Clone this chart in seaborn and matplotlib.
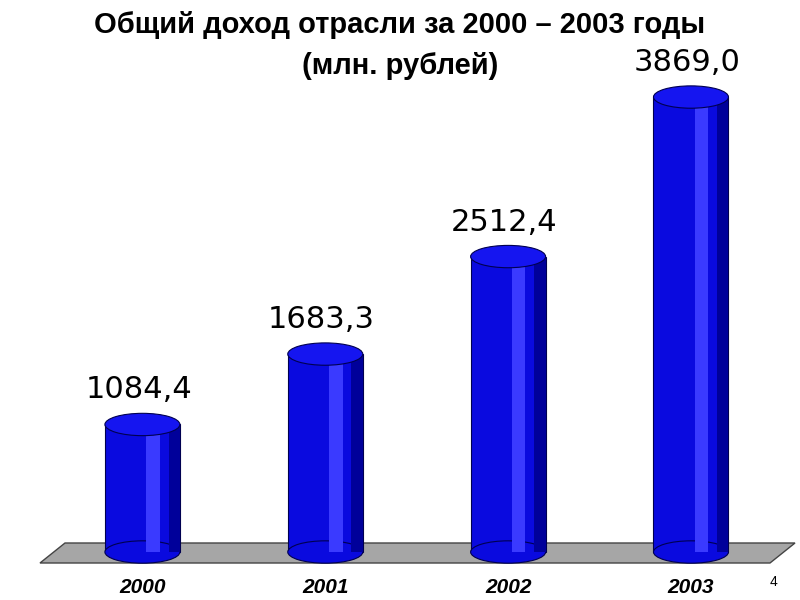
import matplotlib
matplotlib.use("Agg")
import matplotlib.pyplot as plt
import seaborn as sns
import pandas as pd
from matplotlib.patches import Ellipse, Polygon

years = ["2000", "2001", "2002", "2003"]
values = [1084.4, 1683.3, 2512.4, 3869.0]
labels = ["1084,4", "1683,3", "2512,4", "3869,0"]

sns.set_style("white")
plt.rcParams['font.family'] = ['Liberation Sans', 'DejaVu Sans']
plt.rcParams['text.color'] = 'black'

fig = plt.figure(figsize=(8, 6), dpi=100)
fig.patch.set_facecolor("white")

W, H = 800, 600
ax = fig.add_axes([0.05, 0.06, 0.944, 0.84])
ax.set_facecolor("none")
floor = Polygon([(40/W, 1-563/H), (770/W, 1-563/H), (795/W, 1-543/H), (65/W, 1-543/H)],
                closed=True, transform=fig.transFigure, facecolor="#a6a6a6",
                edgecolor="#444444", lw=1, zorder=0.5, clip_on=False)
ax.add_patch(floor)

df = pd.DataFrame({"year": years, "value": values})
bw = 0.41
sns.barplot(data=df, x="year", y="value", color="#0a0adf", width=bw, ax=ax,
            saturation=1, edgecolor="#000050", linewidth=0.8)
ax.set_xlim(-0.56, 3.57)
ax.set_ylim(-102, 4184)
eh = 190
for i, v in enumerate(values):
    ax.add_patch(plt.Rectangle((i - bw/2 + bw*0.55, 0), bw*0.18, v, color="#3a3aff", lw=0, zorder=3))
    ax.add_patch(plt.Rectangle((i - bw/2 + bw*0.85, 0), bw*0.15, v, color="#00009a", lw=0, zorder=3))
    ax.add_patch(Ellipse((i, 0), bw, eh, facecolor="#0a0adf", edgecolor="#000050", lw=0.8, zorder=1.5))
    ax.add_patch(Ellipse((i, v), bw, eh, facecolor="#1515f0", edgecolor="#000050", lw=0.8, zorder=4))
    ax.text(i - 0.02, v + 170, labels[i], ha="center", va="bottom", fontsize=22,
            family=["DejaVu Sans"], color="black", zorder=5)

ax.set_xlabel("")
ax.set_ylabel("")
ax.set_yticks([])
ax.set_xticks(range(4))
ax.set_xticklabels(years, fontsize=15, fontweight="bold", fontstyle="italic", color="black")
ax.tick_params(axis="x", length=0, pad=10)
for s in ax.spines.values():
    s.set_visible(False)

fig.text(0.5, 0.958, "Общий доход отрасли за 2000 – 2003 годы", ha="center", va="center",
         fontsize=21, fontweight="bold", color="black")
fig.text(0.5, 0.89, "(млн. рублей)", ha="center", va="center", fontsize=21,
         fontweight="bold", color="black")
fig.text(0.967, 0.03, "4", ha="center", va="center", fontsize=10, color="black")

fig.savefig("out.png", dpi=100)
